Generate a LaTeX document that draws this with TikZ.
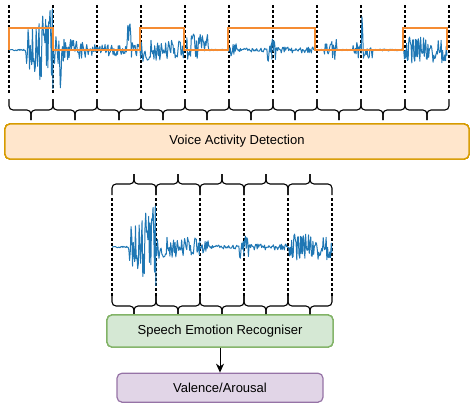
\documentclass[tikz,border=0pt]{standalone}
\usepackage{fontspec}
\setmainfont{Liberation Sans}
\usetikzlibrary{positioning}
\usetikzlibrary{arrows.meta}

\definecolor{wavecol}{RGB}{31,119,180}
\definecolor{vadcol}{RGB}{245,140,50}
\definecolor{vadfill}{RGB}{255,230,204}
\definecolor{vaddraw}{RGB}{215,155,0}
\definecolor{serfill}{RGB}{213,232,212}
\definecolor{serdraw}{RGB}{130,179,102}
\definecolor{vafill}{RGB}{225,213,231}
\definecolor{vadraw}{RGB}{150,115,166}

\tikzset{
  wave/.style={wavecol, line width=1pt, line join=round},
  vadline/.style={vadcol, line width=1.1pt},
  divider/.style={line width=1.5pt, dash pattern=on 3pt off 2pt},
  braceline/.style={line width=1.1pt, rounded corners=4pt},
  box/.style={rounded corners=5pt, line width=1.2pt, font=\fontsize{13}{15}\selectfont},
}

% one 44px slice of signal: seed, left x, baseline y, envelope in \pos
\newcommand{\wavechunk}[4]{%
  \pgfmathsetseed{#1}%
  \draw[wave] (#2,#3) \foreach \i [evaluate=\i as \pos using \i/60] in {1,...,60} { -- ({#2+44*\pos},{#3+(#4)*rand}) };
}
% curly bracket: left x, right x, end y, direction (1 down, -1 up)
\newcommand{\segbrace}[4]{%
  \draw[braceline] (#1,#3) -- (#1,{#3+11*#4}) -- ({(#1+#2)/2},{#3+11*#4}) -- ({(#1+#2)/2},{#3+21*#4});
  \draw[braceline] (#2,#3) -- (#2,{#3+11*#4}) -- ({(#1+#2)/2},{#3+11*#4}) -- ({(#1+#2)/2},{#3+21*#4});
}

\begin{document}
\begin{tikzpicture}[x=1pt,y=-1pt]
        \useasboundingbox (0,0) rectangle (474,405);
        % Full recording
        \foreach \x in {0,...,10}
            \draw[divider] ({9+44*\x},5) -- ({9+44*\x},93);
        \wavechunk{11}{9}{50}{0.8+(\pos>0.38)*(24+20*(\pos-0.38)/0.62)}
        \wavechunk{12}{53}{50}{5+10*(1-\pos)+30*(\pos>0.15)*(\pos<0.2)}
        \wavechunk{13}{97}{50}{6+22*(\pos>0.68)*(\pos<0.8)}
        \wavechunk{14}{140}{50}{12-3*\pos}
        \wavechunk{15}{184}{50}{0.8+16*(\pos>0.05)*(\pos<0.55)}
        \wavechunk{16}{228}{50}{2+5*(\pos<0.2)+11*(\pos>0.88)}
        \wavechunk{17}{271}{50}{3+8*(\pos<0.1)}
        \wavechunk{18}{315}{50}{0.8+10*(\pos>0.2)*(\pos<0.5)+7*(\pos>0.85)}
        \wavechunk{19}{359}{50}{1+9*(\pos<0.3)+25*(\pos>0.05)*(\pos<0.09)}
        \wavechunk{20}{403}{50}{13}
        % VAD decision
        \draw[vadline] (9,50) -- (9,28) -- (53,28) -- (53,50) -- (140,50) -- (140,28) -- (184,28) -- (184,50)
            -- (228,50) -- (228,28) -- (315,28) -- (315,50) -- (403,50) -- (403,28) -- (447,28) -- (447,50);
        \foreach \x in {0,...,9}
            \segbrace{9+44*\x}{53+44*\x}{99}{1}
        \node[box, fill=vadfill, draw=vaddraw, minimum width=464pt, minimum height=35pt] (vad) at (237,141.5) {Voice Activity Detection};
        % Kept segments
        \foreach \x in {0,...,4}
            \segbrace{112+44*\x}{156+44*\x}{195}{-1}
        \foreach \x in {0,...,5}
            \draw[divider] ({112+44*\x},198) -- ({112+44*\x},296);
        \wavechunk{11}{112}{247}{0.8+(\pos>0.38)*(24+20*(\pos-0.38)/0.62)}
        \wavechunk{14}{156}{247}{12-3*\pos}
        \wavechunk{16}{200}{247}{2+5*(\pos<0.2)+11*(\pos>0.88)}
        \wavechunk{17}{244}{247}{3+8*(\pos<0.1)}
        \wavechunk{20}{288}{247}{13}
        \foreach \x in {0,...,4}
            \segbrace{112+44*\x}{156+44*\x}{295}{1}
        % Recogniser
        \node[box, fill=serfill, draw=serdraw, minimum width=226pt, minimum height=32pt] (ser) at (220,331) {Speech Emotion Recogniser};
        \node[box, fill=vafill, draw=vadraw, minimum width=206pt, minimum height=29pt, below=25pt of ser] (va) {Valence/Arousal};
        \draw[-{Stealth[length=9pt,width=8pt]}, line width=1pt] (ser) -- (va);
    \end{tikzpicture}
\end{document}
